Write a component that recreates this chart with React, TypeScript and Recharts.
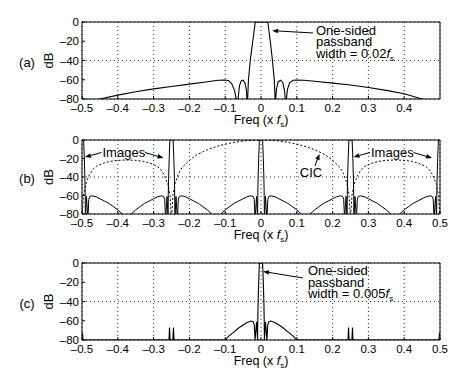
import React from "react";
import {
  LineChart,
  Line,
  XAxis,
  YAxis,
  CartesianGrid,
  ReferenceArea,
  ReferenceLine,
  Label,
} from "recharts";

const FONT = "'Liberation Sans', Arial, Helvetica, sans-serif";

const X_TICKS_A = [-0.5, -0.4, -0.3, -0.2, -0.1, 0, 0.1, 0.2, 0.3, 0.4];
const X_TICKS = [-0.5, -0.4, -0.3, -0.2, -0.1, 0, 0.1, 0.2, 0.3, 0.4, 0.5];
const Y_TICKS = [-80, -60, -40, -20, 0];

// (a) prototype filter, [freq, dB]
const FILTER_A: [number, number][] = [
  [-0.5, -86], [-0.45, -80], [-0.4, -76], [-0.35, -72.5], [-0.3, -69.5],
  [-0.25, -67], [-0.2, -64.5], [-0.15, -62], [-0.12, -60.5], [-0.1, -60.3],
  [-0.09, -61], [-0.082, -64], [-0.074, -71], [-0.066, -86], [-0.06, -66],
  [-0.055, -61], [-0.05, -60.5], [-0.045, -63], [-0.041, -70], [-0.038, -86],
  [-0.035, -60], [-0.03, -40], [-0.023, -20], [-0.016, 0], [0, 0],
  [0.019, 0], [0.026, -20], [0.032, -40], [0.037, -60], [0.04, -86],
  [0.043, -70], [0.048, -62], [0.055, -60.5], [0.061, -63], [0.066, -72],
  [0.069, -86], [0.074, -70], [0.08, -63], [0.09, -60.5], [0.1, -60.3],
  [0.12, -60.5], [0.15, -61.5], [0.2, -63.5], [0.25, -65.5], [0.3, -68],
  [0.35, -71], [0.4, -74.5], [0.45, -80], [0.5, -86],
];

// (b) upsampled filter with images
const FILTER_B: [number, number][] = [
  [-0.5, 0], [-0.4955, 0], [-0.4935, -20], [-0.492, -40], [-0.491, -60],
  [-0.4905, -86], [-0.4875, -61], [-0.4835, -86], [-0.481, -64], [-0.478, -61],
  [-0.472, -60.3], [-0.46, -61.5], [-0.45, -63.5], [-0.4375, -66], [-0.425, -68.5],
  [-0.4125, -72], [-0.4, -75.5], [-0.3875, -80], [-0.38, -86],
  [-0.37, -86], [-0.3625, -80], [-0.35, -75.5], [-0.3375, -72], [-0.325, -68.5],
  [-0.3125, -66], [-0.3, -63.5], [-0.29, -61.5], [-0.278, -60.3], [-0.272, -61],
  [-0.269, -64], [-0.2665, -86], [-0.2625, -61], [-0.2595, -86], [-0.259, -60],
  [-0.258, -40], [-0.2565, -20], [-0.2545, 0], [-0.2455, 0], [-0.2435, -20],
  [-0.242, -40], [-0.241, -60], [-0.2405, -86], [-0.2375, -61], [-0.2335, -86],
  [-0.231, -64], [-0.228, -61], [-0.222, -60.3], [-0.21, -61.5], [-0.2, -63.5],
  [-0.1875, -66], [-0.175, -68.5], [-0.1625, -72], [-0.15, -75.5], [-0.1375, -80],
  [-0.13, -86],
  [-0.12, -86], [-0.1125, -80], [-0.1, -75.5], [-0.0875, -72], [-0.075, -68.5],
  [-0.0625, -66], [-0.05, -63.5], [-0.04, -61.5], [-0.028, -60.3], [-0.022, -61],
  [-0.019, -64], [-0.0165, -86], [-0.0125, -61], [-0.0095, -86], [-0.009, -60],
  [-0.008, -40], [-0.0065, -20], [-0.0045, 0], [0.0045, 0], [0.0065, -20],
  [0.008, -40], [0.009, -60], [0.0095, -86], [0.0125, -61], [0.0165, -86],
  [0.019, -64], [0.022, -61], [0.028, -60.3], [0.04, -61.5], [0.05, -63.5],
  [0.0625, -66], [0.075, -68.5], [0.0875, -72], [0.1, -75.5], [0.1125, -80],
  [0.12, -86],
  [0.13, -86], [0.1375, -80], [0.15, -75.5], [0.1625, -72], [0.175, -68.5],
  [0.1875, -66], [0.2, -63.5], [0.21, -61.5], [0.222, -60.3], [0.228, -61],
  [0.231, -64], [0.2335, -86], [0.2375, -61], [0.2405, -86], [0.241, -60],
  [0.242, -40], [0.2435, -20], [0.2455, 0], [0.2545, 0], [0.2565, -20],
  [0.258, -40], [0.259, -60], [0.2595, -86], [0.2625, -61], [0.2665, -86],
  [0.269, -64], [0.272, -61], [0.278, -60.3], [0.29, -61.5], [0.3, -63.5],
  [0.3125, -66], [0.325, -68.5], [0.3375, -72], [0.35, -75.5], [0.3625, -80],
  [0.37, -86],
  [0.38, -86], [0.3875, -80], [0.4, -75.5], [0.4125, -72], [0.425, -68.5],
  [0.4375, -66], [0.45, -63.5], [0.46, -61.5], [0.472, -60.3], [0.478, -61],
  [0.481, -64], [0.4835, -86], [0.4875, -61], [0.4905, -86], [0.491, -60],
  [0.492, -40], [0.4935, -20], [0.4955, 0], [0.5, 0],
];

// (b) CIC response (dotted)
const CIC_B: [number, number][] = [
  [-0.5, -86], [-0.496, -60], [-0.49, -48], [-0.48, -38], [-0.47, -32],
  [-0.46, -28.5], [-0.44, -25], [-0.42, -23], [-0.4, -22], [-0.375, -21.6],
  [-0.35, -22], [-0.33, -23], [-0.31, -25], [-0.29, -28.5], [-0.28, -32],
  [-0.27, -38], [-0.26, -48], [-0.254, -60], [-0.25, -86], [-0.246, -60],
  [-0.24, -47], [-0.23, -36], [-0.22, -29.5], [-0.2, -22], [-0.18, -16],
  [-0.15, -10.5], [-0.12, -6.5], [-0.1, -4.5], [-0.075, -2.5], [-0.05, -1.1],
  [-0.025, -0.3], [0, 0], [0.025, -0.3], [0.05, -1.1], [0.075, -2.5],
  [0.1, -4.5], [0.12, -6.5], [0.15, -10.5], [0.18, -16], [0.2, -22],
  [0.22, -29.5], [0.23, -36], [0.24, -47], [0.246, -60], [0.25, -86],
  [0.254, -60], [0.26, -48], [0.27, -38], [0.28, -32], [0.29, -28.5],
  [0.31, -25], [0.33, -23], [0.35, -22], [0.375, -21.6], [0.4, -22],
  [0.42, -23], [0.44, -25], [0.46, -28.5], [0.47, -32], [0.48, -38],
  [0.49, -48], [0.496, -60], [0.5, -86],
];

// (c) cascade response
const FILTER_C: [number, number][] = [
  [-0.5, -73], [-0.4985, -73], [-0.497, -80], [-0.257, -80], [-0.2555, -67],
  [-0.254, -80], [-0.246, -80], [-0.2445, -67], [-0.243, -80], [-0.1, -80],
  [-0.09, -76], [-0.075, -71.5], [-0.0625, -67.5], [-0.05, -64.5], [-0.04, -62],
  [-0.028, -60.3], [-0.022, -61], [-0.019, -64], [-0.0165, -80], [-0.0125, -61],
  [-0.0095, -80], [-0.009, -60], [-0.008, -40], [-0.0065, -20], [-0.0045, 0],
  [0.0045, 0], [0.0065, -20], [0.008, -40], [0.009, -60], [0.0095, -80],
  [0.0125, -61], [0.0165, -80], [0.019, -64], [0.022, -61], [0.028, -60.3],
  [0.04, -62], [0.05, -64.5], [0.0625, -67.5], [0.075, -71.5], [0.09, -76],
  [0.1, -80], [0.243, -80], [0.2445, -67], [0.246, -80], [0.254, -80],
  [0.2555, -67], [0.257, -80], [0.497, -80], [0.4985, -73], [0.5, -73],
];

const toRows = (pts: [number, number][]) => pts.map(([f, db]) => ({ f, db }));

const fmt = (v: number) => (v < 0 ? "\u2013" + String(-v) : String(v));

function arrow(extra?: (x1: number, y1: number) => React.ReactNode) {
  return (p: any) => {
    const { x1, y1, x2, y2 } = p;
    const a = Math.atan2(y2 - y1, x2 - x1);
    const L = 6;
    const W = 2.3;
    const bx = x2 - L * Math.cos(a);
    const by = y2 - L * Math.sin(a);
    const pts = `${x2},${y2} ${bx + W * Math.sin(a)},${by - W * Math.cos(a)} ${bx - W * Math.sin(a)},${by + W * Math.cos(a)}`;
    return (
      <g>
        <line x1={x1} y1={y1} x2={bx} y2={by} stroke="#000" strokeWidth={1} />
        <polygon points={pts} fill="#000" />
        {extra ? extra(x1, y1) : null}
      </g>
    );
  };
}

function passText(width: string, dx: number, dy: number) {
  return (x: number, y: number) => (
    <g fontSize={13} fontFamily={FONT} fill="#000">
      <text x={x + dx} y={y + dy}>One-sided</text>
      <text x={x + dx} y={y + dy + 11.5}>passband</text>
      <text x={x + dx} y={y + dy + 23}>
        width = {width}
        <tspan fontStyle="italic">f</tspan>
        <tspan fontSize={8} dy={3}>s</tspan>
      </text>
    </g>
  );
}

const imagesText = (x: number, y: number) => (
  <text x={x + 1} y={y + 4.5} fontSize={13} fontFamily={FONT} fill="#000">
    Images
  </text>
);

const cicText = (x: number, y: number) => (
  <text x={x - 4} y={y + 11} textAnchor="middle" fontSize={13} fontFamily={FONT} fill="#000">
    CIC
  </text>
);

const freqLabel = (props: any) => {
  const { x, y, width } = props.viewBox;
  return (
    <text x={x + width / 2} y={y + 25} textAnchor="middle" fontSize={12.5} fontFamily={FONT} fill="#000">
      Freq (x <tspan fontStyle="italic">f</tspan>
      <tspan fontSize={8} dy={3}>s</tspan>
      <tspan dy={-3}>)</tspan>
    </text>
  );
};

const yLabel = (tag: string) => (props: any) => {
  const { y, height } = props.viewBox;
  const cy = y + height / 2;
  return (
    <g>
      <text x={27} y={cy + 6} textAnchor="middle" fontSize={13} fontFamily={FONT} fill="#000">
        {tag}
      </text>
      <text x={53} y={cy} textAnchor="middle" fontSize={13} fontFamily={FONT} fill="#000" transform={`rotate(-90 53 ${cy})`}>
        dB
      </text>
    </g>
  );
};

function Panel({ plotTop, plotH, tag, xTicks, children }: any) {
  const top = plotTop - 22;
  const height = 22 + plotH + 32;
  return (
    <div style={{ position: "absolute", left: 0, top, width: 474, height }}>
      <LineChart width={474} height={height} margin={{ top: 22, right: 34, bottom: 0, left: 0 }}>
        <CartesianGrid stroke="#333" strokeDasharray="1 3" />
        <XAxis
          type="number"
          dataKey="f"
          domain={[-0.5, 0.5]}
          ticks={xTicks}
          interval={0}
          allowDataOverflow
          height={32}
          tickFormatter={fmt}
          tick={{ fill: "#000", fontSize: 11.5, fontFamily: FONT }}
          axisLine={false}
          tickSize={-3}
          tickMargin={8}
          tickLine={{ stroke: "#000" }}
        >
          <Label content={freqLabel} />
        </XAxis>
        <YAxis
          type="number"
          domain={[-80, 0]}
          ticks={Y_TICKS}
          allowDataOverflow
          width={82}
          tickFormatter={fmt}
          tick={{ fill: "#000", fontSize: 11.5, fontFamily: FONT }}
          axisLine={false}
          tickSize={-3}
          tickMargin={6}
          tickLine={{ stroke: "#000" }}
        >
          <Label content={yLabel(tag)} />
        </YAxis>
        {children}
        <ReferenceArea x1={-0.5} x2={0.5} y1={-80} y2={0} fill="none" stroke="#000" strokeWidth={1} ifOverflow="visible" />
      </LineChart>
    </div>
  );
}

export default function App() {
  return (
    <div style={{ position: "absolute", left: 0, top: 0, width: 474, height: 379, background: "#fff" }}>
      <Panel plotTop={22} plotH={77} tag="(a)" xTicks={X_TICKS_A}>
        <Line data={toRows(FILTER_A)} dataKey="db" type="linear" dot={false} stroke="#000" strokeWidth={1.1} isAnimationActive={false} />
        <ReferenceLine
          segment={[{ x: 0.145, y: -11.4 }, { x: 0.031, y: -9 }]}
          ifOverflow="visible"
          shape={arrow(passText("0.02", 3, 2))}
        />
      </Panel>
      <Panel plotTop={140} plotH={74} tag="(b)" xTicks={X_TICKS}>
        <Line data={toRows(CIC_B)} dataKey="db" type="linear" dot={false} stroke="#000" strokeWidth={1} strokeDasharray="2 2" isAnimationActive={false} />
        <Line data={toRows(FILTER_B)} dataKey="db" type="linear" dot={false} stroke="#000" strokeWidth={1} isAnimationActive={false} />
        <ReferenceLine segment={[{ x: -0.4455, y: -13.5 }, { x: -0.4916, y: -18.4 }]} ifOverflow="visible" shape={arrow(imagesText)} />
        <ReferenceLine segment={[{ x: -0.324, y: -13.5 }, { x: -0.2723, y: -19.5 }]} ifOverflow="visible" shape={arrow()} />
        <ReferenceLine segment={[{ x: 0.3045, y: -13.5 }, { x: 0.2584, y: -18.4 }]} ifOverflow="visible" shape={arrow(imagesText)} />
        <ReferenceLine segment={[{ x: 0.426, y: -13.5 }, { x: 0.4777, y: -19.5 }]} ifOverflow="visible" shape={arrow()} />
        <ReferenceLine segment={[{ x: 0.1508, y: -28 }, { x: 0.1634, y: -15 }]} ifOverflow="visible" shape={arrow(cicText)} />
      </Panel>
      <Panel plotTop={263} plotH={77} tag="(c)" xTicks={X_TICKS}>
        <Line data={toRows(FILTER_C)} dataKey="db" type="linear" dot={false} stroke="#000" strokeWidth={1.1} isAnimationActive={false} />
        <ReferenceLine
          segment={[{ x: 0.117, y: -15.6 }, { x: 0.0056, y: -8.8 }]}
          ifOverflow="visible"
          shape={arrow(passText("0.005", 5, -3))}
        />
      </Panel>
    </div>
  );
}
